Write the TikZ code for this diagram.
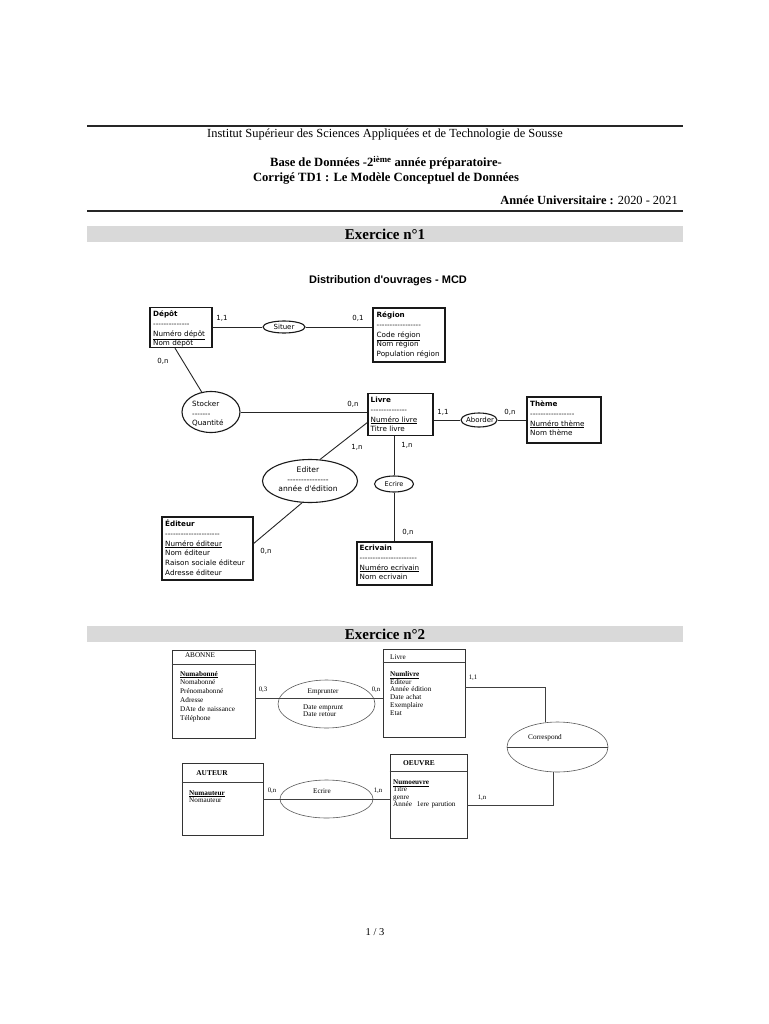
\documentclass[tikz,border=0pt]{standalone}
\usepackage{fontspec}
\setmainfont{Liberation Serif}
\newfontfamily\dvs{DejaVu Sans}
\newfontfamily\lsans{Liberation Sans}
\usetikzlibrary{shapes.geometric}
\newcommand\fsz[2]{\fontsize{#1}{#2}\selectfont}
\newcommand\dashrow[1]{\foreach\k in {1,...,#1}{-}}
\begin{document}
\begin{tikzpicture}[x=1pt,y=-1pt,
  rulel/.style={line width=1.5pt,draw=black!85},
  bandfill/.style={fill=black!15},
  bandtxt/.style={inner sep=0,font=\bfseries\fsz{15}{17}},
  hdr/.style={inner sep=0,font=\fsz{12.4}{14}},
  hdrb/.style={inner sep=0,font=\bfseries\fsz{12.6}{14}},
  ebox/.style={draw=black!90,line width=1.3pt,rectangle,inner sep=0},
  etxt/.style={inner sep=0,anchor=base west,text width=100pt,align=left,font=\dvs\fsz{7.2}{9.8}},
  erel/.style={draw=black!90,line width=1.1pt,ellipse,inner sep=0},
  elbl/.style={inner sep=0,font=\dvs\fsz{7}{8}},
  econ/.style={draw=black!85,line width=0.9pt},
  tbox/.style={draw=black!80,line width=0.7pt,rectangle,inner sep=0},
  ttxt/.style={inner sep=0,anchor=base west,text width=90pt,align=left},
  trel/.style={draw=black!65,line width=0.6pt,ellipse,inner sep=0},
  tlbl/.style={inner sep=0,font=\fsz{6.8}{8}},
  tcon/.style={draw=black!75,line width=0.6pt}
]
\fill[white] (0,0) rectangle (768,1024);
\path[use as bounding box] (0,0) rectangle (768,1024);

% ---------- header ----------
\draw[rulel] (87,126) -- (683,126);
\node[hdr] (inst) at (385,134.5) {Institut Supérieur des Sciences Appliquées et de Technologie de Sousse};
\node[hdrb] (base) at (386,163) {Base de Données -2\textsuperscript{ième} année préparatoire-};
\node[hdrb] (corr) at (386,179) {Corrigé TD1 : Le Modèle Conceptuel de Données};
\node[hdr,anchor=east] (annee) at (678,200) {\textbf{Année Universitaire :} 2020 - 2021};
\draw[rulel] (87,211) -- (683,211);
\fill[bandfill] (87,226) rectangle (683,242);
\node[bandtxt] (ex1) at (385,234) {Exercice n°1};

% ---------- exercice 1 ----------
\node[inner sep=0,font=\lsans\bfseries\fsz{11}{12}] (title1) at (388,281) {Distribution d'ouvrages - MCD};

\node[ebox,minimum width=62,minimum height=40] (depot) at (181,327.5) {};
\node[etxt] (depotT) at (153,316.5) {\textbf{Dépôt}\\\dashrow{14}\\\underline{Numéro dépôt}\\Nom dépôt};

\node[ebox,minimum width=72,minimum height=54] (region) at (409,335) {};
\node[etxt] (regionT) at (376.5,317.5) {\textbf{Région}\\\dashrow{17}\\\underline{Code région}\\Nom région\\Population région};

\node[ebox,minimum width=65,minimum height=42] (livre) at (400.5,414.5) {};
\node[etxt] (livreT) at (370.5,402.5) {\textbf{Livre}\\\dashrow{14}\\\underline{Numéro livre}\\Titre livre};

\node[ebox,minimum width=74,minimum height=46] (theme) at (564,420) {};
\node[etxt] (themeT) at (530,406.5) {\textbf{Thème}\\\dashrow{17}\\\underline{Numéro thème}\\Nom thème};

\node[ebox,minimum width=91,minimum height=63] (editeur) at (207.5,548.5) {};
\node[etxt] (editeurT) at (165,526.5) {\textbf{Éditeur}\\\dashrow{21}\\\underline{Numéro éditeur}\\Nom éditeur\\Raison sociale éditeur\\Adresse éditeur};

\node[ebox,minimum width=75,minimum height=43] (ecrivain) at (394.5,563.5) {};
\node[etxt] (ecrivainT) at (359.5,550.5) {\textbf{Ecrivain}\\\dashrow{22}\\\underline{Numéro ecrivain}\\Nom ecrivain};

\node[erel,minimum width=42,minimum height=12] (situer) at (284,327) {};
\node[elbl] (situerT) at (284,327) {Situer};
\node[erel,minimum width=58,minimum height=41] (stocker) at (211,412) {};
\node[etxt,font=\dvs\fsz{7.2}{9.5}] (stockerT) at (192,406.7) {Stocker\\\dashrow{7}\\Quantité};
\node[erel,minimum width=36,minimum height=14] (aborder) at (479,420) {};
\node[elbl] (aborderT) at (480,420) {Aborder};
\node[erel,minimum width=95,minimum height=43] (editer) at (310,481) {};
\node[inner sep=0,anchor=base,text width=80pt,align=center,font=\dvs\fsz{7.6}{9.5}] (editerT) at (308,472.7) {Editer\\\dashrow{15}\\année d'édition};
\node[erel,minimum width=39,minimum height=16] (ecrire1) at (394,484) {};
\node[elbl,font=\dvs\fsz{6.5}{8}] (ecrire1T) at (394,484) {Ecrire};

\draw[econ] (depot.east |- situer) -- (situer.west);
\draw[econ] (situer.east) -- (situer.east -| region.west);
\draw[econ] ([xshift=-6pt]depot.south) -- (stocker.115);
\draw[econ] (stocker.east) -- (stocker.east -| livre.west);
\draw[econ] (livre.east |- aborder) -- (aborder.west);
\draw[econ] (aborder.east) -- (aborder.east -| theme.west);
\draw[econ] ([yshift=-8pt]livre.west) -- (editer.65);
\draw[econ] (ecrire1 |- livre.south) -- (ecrire1.north);
\draw[econ] (ecrire1.south) -- (ecrire1 |- ecrivain.north);
\draw[econ] (editer.250) -- ([yshift=5pt]editeur.east);

\node[elbl] (c1) at (222,318) {1,1};
\node[elbl] (c2) at (358,318) {0,1};
\node[elbl] (c3) at (163,361) {0,n};
\node[elbl] (c4) at (353,404) {0,n};
\node[elbl] (c5) at (443,412) {1,1};
\node[elbl] (c6) at (510,412) {0,n};
\node[elbl] (c7) at (357,447) {1,n};
\node[elbl] (c8) at (407,445) {1,n};
\node[elbl] (c9) at (408,532) {0,n};
\node[elbl] (c10) at (266,551) {0,n};

% ---------- exercice 2 ----------
\fill[bandfill] (87,626) rectangle (683,642);
\node[bandtxt] (ex2) at (385,634) {Exercice n°2};

\node[tbox,minimum width=83,minimum height=88] (abonne) at (213.5,694) {};
\draw[tcon] ([yshift=-15pt]abonne.north west) -- ([yshift=-15pt]abonne.north east);
\node[inner sep=0,anchor=base,font=\fsz{7.2}{8}] (abonneH) at (200,657.5) {ABONNE};
\node[ttxt,font=\fsz{7.2}{8.9}] (abonneT) at (180,676) {\textbf{\underline{Numabonné}}\\Nomabonné\\Prénomabonné\\Adresse\\DAte de naissance\\Téléphone};

\node[tbox,minimum width=82,minimum height=88] (livre2) at (424,693) {};
\draw[tcon] ([yshift=-14pt]livre2.north west) -- ([yshift=-14pt]livre2.north east);
\node[inner sep=0,anchor=base west,font=\fsz{7.2}{8}] (livre2H) at (390,659.5) {Livre};
\node[ttxt,font=\fsz{7.2}{7.7}] (livre2T) at (390,676.5) {\textbf{\underline{Numlivre}}\\Editeur\\Année édition\\Date achat\\Exemplaire\\Etat};

\node[tbox,minimum width=81,minimum height=72] (auteur) at (222.5,799) {};
\draw[tcon] ([yshift=-20pt]auteur.north west) -- ([yshift=-20pt]auteur.north east);
\node[inner sep=0,anchor=base,font=\bfseries\fsz{7.4}{8}] (auteurH) at (212,775.5) {AUTEUR};
\node[ttxt,font=\fsz{7.2}{7.4}] (auteurT) at (189,795) {\textbf{\underline{Numauteur}}\\Nomauteur};

\node[tbox,minimum width=77,minimum height=84] (oeuvre) at (428.5,796) {};
\draw[tcon] ([yshift=-18pt]oeuvre.north west) -- ([yshift=-18pt]oeuvre.north east);
\node[inner sep=0,anchor=base,font=\bfseries\fsz{7.4}{8}] (oeuvreH) at (419,765.5) {OEUVRE};
\node[ttxt,font=\fsz{7.2}{7.4}] (oeuvreT) at (393,784.5) {\textbf{\underline{Numoeuvre}}\\Titre\\genre\\Année~~1ere parution};

\node[trel,minimum width=97,minimum height=48] (emprunter) at (326.5,704) {};
\node[tlbl,font=\fsz{7.2}{8}] (emprunterT) at (323,692) {Emprunter};
\node[ttxt,font=\fsz{7.2}{7.4}] (emprunterA) at (303,709.5) {Date emprunt\\Date retour};

\node[trel,minimum width=93,minimum height=38] (ecrire2) at (326.5,799) {};
\node[tlbl,font=\fsz{7.2}{8}] (ecrire2T) at (322,791) {Ecrire};

\node[trel,minimum width=101,minimum height=50] (correspond) at (557.5,747) {};
\draw[tcon] (correspond.west) -- (correspond.east);
\node[tlbl,font=\fsz{7.2}{8}] (correspondT) at (545,738) {Correspond};

\draw[tcon] ([yshift=-4pt]abonne.east) -- ([yshift=-4pt]abonne.east -| livre2.west);
\draw[tcon] (auteur.east) -- (auteur.east -| oeuvre.west);
\draw[tcon] ([yshift=6pt]livre2.east) -| ([xshift=-12pt]correspond.north);
\draw[tcon] ([yshift=-9pt]oeuvre.east) -| ([xshift=-4pt]correspond.south);

\node[tlbl] (d1) at (263,690) {0,3};
\node[tlbl] (d2) at (376,690) {0,n};
\node[tlbl] (d3) at (473,678) {1,1};
\node[tlbl] (d4) at (272,791) {0,n};
\node[tlbl] (d5) at (378,791) {1,n};
\node[tlbl] (d6) at (482,798) {1,n};

\node[inner sep=0,font=\fsz{10.5}{12}] (pg) at (375,932) {1 / 3};
\end{tikzpicture}
\end{document}
